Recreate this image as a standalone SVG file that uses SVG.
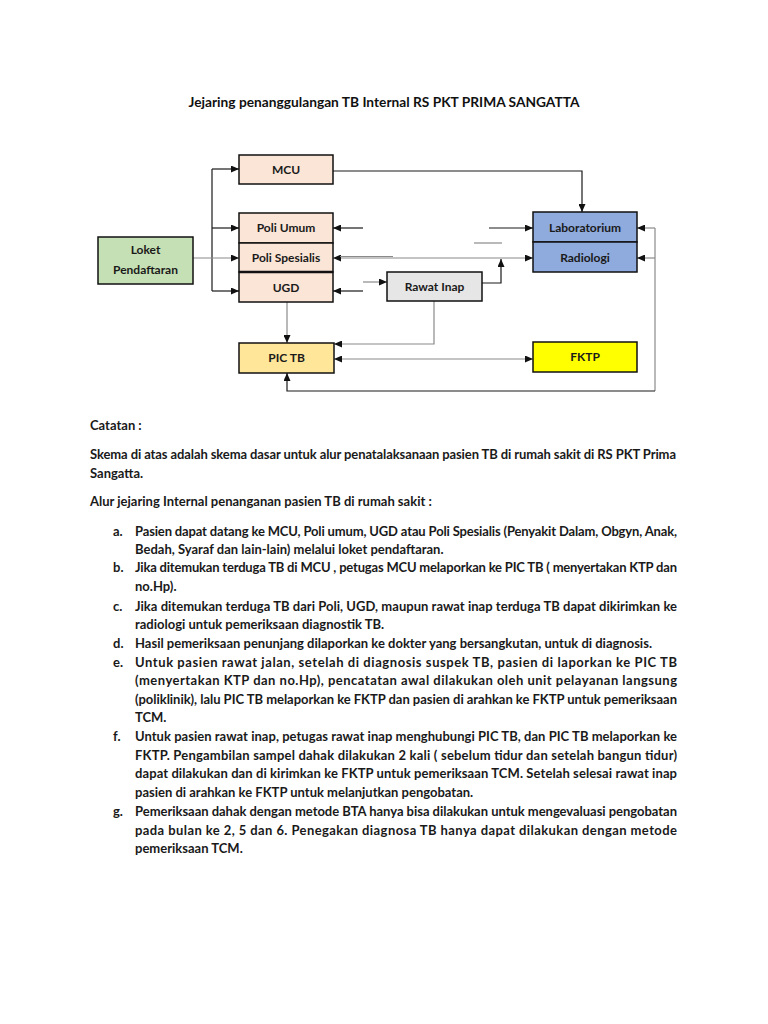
<svg xmlns="http://www.w3.org/2000/svg" width="768" height="1024" viewBox="0 0 768 1024">
<style>
.bx{stroke:#111;stroke-width:1.5}
.lb{font-family:Lato,"Liberation Sans",sans-serif;font-size:12px;font-weight:bold;fill:#1a1a1a;text-anchor:middle}
.c{fill:none;stroke:#1a1a1a;stroke-width:1.2}
.g{fill:none;stroke:#8a8a8a;stroke-width:1.2}
.t{font-family:Lato,"Liberation Sans",sans-serif;font-size:13px;font-weight:bold;fill:#1a1a1a}
.ti{font-family:Lato,"Liberation Sans",sans-serif;font-size:13.5px;font-weight:bold;fill:#111}
</style>
<defs>
<marker id="ah" markerUnits="userSpaceOnUse" markerWidth="8" markerHeight="7" refX="8" refY="3.5" orient="auto-start-reverse">
<path d="M0,0 L8,3.5 L0,7 z" fill="#111"/>
</marker>
</defs>
<rect width="768" height="1024" fill="#fff"/>
<text class="ti" x="188.5" y="107" textLength="391" lengthAdjust="spacingAndGlyphs">Jejaring penanggulangan TB Internal RS PKT PRIMA SANGATTA</text>

<g id="connectors">
<path class="c" d="M212,169 V291"/>
<path class="c" d="M212,169 H239" marker-end="url(#ah)"/>
<path class="c" d="M212,228 H239" marker-end="url(#ah)"/>
<path class="c" d="M212,291 H239" marker-end="url(#ah)"/>
<path class="g" d="M193,258 H239" marker-end="url(#ah)"/>
<path class="c" d="M363,228 H333" marker-end="url(#ah)"/>
<path class="c" d="M363,291 H333" marker-end="url(#ah)"/>
<path class="g" d="M363,282 H387" marker-end="url(#ah)"/>
<path class="c" d="M489,228 H533" marker-end="url(#ah)"/>
<path class="g" d="M474,243 H502"/>
<path class="g" d="M333,258 H533" marker-start="url(#ah)" marker-end="url(#ah)"/>
<path class="g" d="M340,256.5 H393"/>
<path class="c" d="M482,283 H501 V259" marker-end="url(#ah)"/>
<path class="g" d="M655,228 H637" marker-end="url(#ah)"/>
<path class="g" d="M655,258 H637" marker-end="url(#ah)"/>
<path class="g" d="M655,228 V391"/>
<path class="c" d="M655,391 H287 V373" marker-end="url(#ah)"/>
<path class="g" d="M287,302 V343" marker-end="url(#ah)"/>
<path class="g" d="M434,301 V344 H334" marker-end="url(#ah)"/>
<path class="g" d="M334,359 H533" marker-start="url(#ah)" marker-end="url(#ah)"/>
<path class="c" d="M333,171 H582 V212" marker-end="url(#ah)"/>
</g>

<g id="mcu"><rect class="bx" x="239" y="155" width="94" height="29" fill="#fbe5d6"/><text class="lb" x="286" y="174">MCU</text></g>
<g id="poli-umum"><rect class="bx" x="239" y="213" width="94" height="30" fill="#fbe5d6"/><text class="lb" x="286" y="232">Poli Umum</text></g>
<g id="poli-spesialis"><rect class="bx" x="239" y="243" width="94" height="29" fill="#fbe5d6"/><text class="lb" x="286" y="262">Poli Spesialis</text></g>
<g id="ugd"><rect class="bx" x="239" y="272" width="94" height="30" fill="#fbe5d6"/><line x1="239" y1="272" x2="333" y2="272" stroke="#111" stroke-width="2.5"/><text class="lb" x="286" y="292">UGD</text></g>
<g id="loket"><rect class="bx" x="98" y="237" width="95" height="47" fill="#c5e0b4"/><text class="lb" x="145.5" y="254">Loket</text><text class="lb" x="145.5" y="274">Pendaftaran</text></g>
<g id="laboratorium"><rect class="bx" x="533" y="212" width="104" height="30" fill="#8faadc"/><text class="lb" x="585" y="232">Laboratorium</text></g>
<g id="radiologi"><rect class="bx" x="533" y="242" width="104" height="30" fill="#8faadc"/><text class="lb" x="585" y="262">Radiologi</text></g>
<g id="rawat-inap"><rect class="bx" x="387" y="272" width="95" height="29" fill="#e7e6e6"/><text class="lb" x="434.5" y="291">Rawat Inap</text></g>
<g id="pic-tb"><rect class="bx" x="239" y="343" width="95" height="30" fill="#ffe699"/><text class="lb" x="286.5" y="362">PIC TB</text></g>
<g id="fktp"><rect class="bx" x="533" y="342" width="104" height="30" fill="#ffff00"/><text class="lb" x="585" y="361">FKTP</text></g>

<g id="notes">
<text class="t" x="90" y="430">Catatan :</text>
<text class="t" x="90" y="459" textLength="586" lengthAdjust="spacing">Skema di atas adalah skema dasar untuk alur penatalaksanaan pasien TB di rumah sakit di RS PKT Prima</text>
<text class="t" x="90" y="478">Sangatta.</text>
<text class="t" x="90" y="506">Alur jejaring Internal penanganan pasien TB di rumah sakit :</text>

<text class="t" x="113" y="536">a.</text>
<text class="t" x="135" y="536" textLength="542" lengthAdjust="spacing">Pasien dapat datang ke MCU, Poli umum, UGD atau Poli Spesialis (Penyakit Dalam, Obgyn, Anak,</text>
<text class="t" x="135" y="554">Bedah, Syaraf dan lain-lain) melalui loket pendaftaran.</text>
<text class="t" x="113" y="572">b.</text>
<text class="t" x="135" y="572" textLength="542" lengthAdjust="spacing">Jika ditemukan terduga TB di MCU , petugas MCU melaporkan ke PIC TB ( menyertakan KTP dan</text>
<text class="t" x="135" y="591">no.Hp).</text>
<text class="t" x="113" y="611">c.</text>
<text class="t" x="135" y="611" textLength="542" lengthAdjust="spacing">Jika ditemukan terduga TB dari Poli, UGD, maupun rawat inap terduga TB dapat dikirimkan ke</text>
<text class="t" x="135" y="629">radiologi untuk pemeriksaan diagnostik TB.</text>
<text class="t" x="113" y="648">d.</text>
<text class="t" x="135" y="648">Hasil pemeriksaan penunjang dilaporkan ke dokter yang bersangkutan, untuk di diagnosis.</text>
<text class="t" x="113" y="667">e.</text>
<text class="t" x="135" y="667" textLength="542" lengthAdjust="spacing">Untuk pasien rawat jalan, setelah di diagnosis suspek TB, pasien di laporkan ke PIC TB</text>
<text class="t" x="135" y="685" textLength="542" lengthAdjust="spacing">(menyertakan KTP dan no.Hp), pencatatan awal dilakukan oleh unit pelayanan langsung</text>
<text class="t" x="135" y="704" textLength="542" lengthAdjust="spacing">(poliklinik), lalu PIC TB melaporkan ke FKTP dan pasien di arahkan ke FKTP untuk pemeriksaan</text>
<text class="t" x="135" y="722">TCM.</text>
<text class="t" x="113" y="741">f.</text>
<text class="t" x="135" y="741" textLength="542" lengthAdjust="spacing">Untuk pasien rawat inap, petugas rawat inap menghubungi PIC TB, dan PIC TB melaporkan ke</text>
<text class="t" x="135" y="760" textLength="542" lengthAdjust="spacing">FKTP. Pengambilan sampel dahak dilakukan 2 kali ( sebelum tidur dan setelah bangun tidur)</text>
<text class="t" x="135" y="778" textLength="542" lengthAdjust="spacing">dapat dilakukan dan di kirimkan ke FKTP untuk pemeriksaan TCM. Setelah selesai rawat inap</text>
<text class="t" x="135" y="797">pasien di arahkan ke FKTP untuk melanjutkan pengobatan.</text>
<text class="t" x="113" y="816">g.</text>
<text class="t" x="135" y="816" textLength="542" lengthAdjust="spacing">Pemeriksaan dahak dengan metode BTA hanya bisa dilakukan untuk mengevaluasi pengobatan</text>
<text class="t" x="135" y="835" textLength="542" lengthAdjust="spacing">pada bulan ke 2, 5 dan 6. Penegakan diagnosa TB hanya dapat dilakukan dengan metode</text>
<text class="t" x="135" y="853">pemeriksaan TCM.</text>
</g>
</svg>
